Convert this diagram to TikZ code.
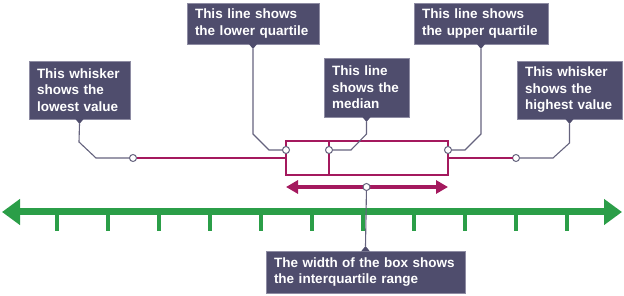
\documentclass[tikz,border=0pt]{standalone}
\usepackage{fontspec}
\setmainfont{Liberation Sans}
\usetikzlibrary{arrows.meta,calc}
\definecolor{boxc}{HTML}{4F4D6D}
\definecolor{boxedge}{HTML}{8E8CA3}
\definecolor{conn}{HTML}{65637E}
\definecolor{mag}{HTML}{A4195E}
\definecolor{grn}{HTML}{2B9E48}
\begin{document}
\begin{tikzpicture}[x=1pt,y=-1pt,
  lbl/.style={rectangle,fill=boxc,draw=boxedge,line width=0.6pt,text=white,
    font=\fontsize{13.5}{16.5}\selectfont\bfseries,align=left,
    inner xsep=8pt,inner ysep=0pt,outer sep=0pt,anchor=north west},
  ptr/.style={fill=boxc},
  connline/.style={draw=conn,line width=1.1pt},
  dot/.style={circle,fill=white,draw=conn,line width=1pt,minimum size=7pt,inner sep=0pt,outer sep=0pt},
  magline/.style={draw=mag,line width=2pt},
  axis/.style={draw=grn,line width=7pt},
  tick/.style={draw=grn,line width=4pt}]
\useasboundingbox (0,0) rectangle (624,296);

% green axis
\coordinate (axL) at (2,212);
\coordinate (axR) at (622,212);
\draw[axis,{Triangle[length=18pt,width=25pt]}-{Triangle[length=18pt,width=25pt]}] (axL) -- (axR);
\foreach \i in {0,...,10}{
  \coordinate (t\i) at ({57+51*\i},212);
  \draw[tick] (t\i) -- ++(0,19);
}

% box plot
\coordinate (q1t) at (286,141);
\coordinate (q3b) at (448,175);
\coordinate (medt) at (329,141);
\coordinate (medb) at (329,175);
\node[dot] (cmin) at (133,158) {};
\node[dot] (cmax) at (516,158) {};
\coordinate (wl) at (286,158);
\coordinate (wr) at (448,158);
\draw[magline] (cmin) -- (wl);
\draw[magline] (wr) -- (cmax);
\draw[magline] (q1t) rectangle (q3b);
\draw[magline] (medt) -- (medb);
\node[dot] (cq1) at (286,150) {};
\node[dot] (cmed) at (329,150) {};
\node[dot] (cq3) at (448,150) {};

% IQR arrow
\coordinate (iqL) at (286,187);
\coordinate (iqR) at (448,187);
\draw[draw=mag,line width=3.5pt,{Triangle[length=12pt,width=13pt]}-{Triangle[length=12pt,width=13pt]}] (iqL) -- (iqR);

% labels
\node[lbl,text width=85pt,minimum height=58pt] (low) at (29,61) {This whisker\\shows the\\lowest value};
\node[lbl,text width=116pt,minimum height=41pt] (lq) at (187,3) {This line shows\\the lower quartile};
\node[lbl,text width=69pt,minimum height=59pt] (med) at (324,58) {This line\\shows the\\median};
\node[lbl,text width=118pt,minimum height=41pt] (uq) at (414,3) {This line shows\\the upper quartile};
\node[lbl,text width=89pt,minimum height=58pt] (high) at (517,61) {This whisker\\shows the\\highest value};
\node[lbl,text width=183pt,minimum height=42pt] (iqr) at (266,251) {The width of the box shows\\the interquartile range};

% pointers
\foreach \n in {low,lq,med,uq,high}{
  \fill[ptr] ($(\n.south)+(-4.5,-0.5)$) -- ($(\n.south)+(4.5,-0.5)$) -- ($(\n.south)+(0,5)$) -- cycle;
  \coordinate (\n tip) at ($(\n.south)+(0,5)$);
}
\fill[ptr] ($(iqr.north)+(-4.5,0.5)$) -- ($(iqr.north)+(4.5,0.5)$) -- ($(iqr.north)+(0,-5)$) -- cycle;
\coordinate (iqrtip) at ($(iqr.north)+(0,-5)$);

% connectors
\draw[connline] (lowtip) -- (79,142) -- (96,158) -- (cmin);
\draw[connline] (lqtip) -- (253,134) -- (269,150) -- (cq1);
\draw[connline] (medtip) -- (366.5,134) -- (351,150) -- (cmed);
\draw[connline] (uqtip) -- (481,134) -- (465,150) -- (cq3);
\draw[connline] (hightip) -- (569.5,143) -- (553,158) -- (cmax);
\coordinate (ciqrc) at (366.5,187);
\draw[connline] (ciqrc) -- (iqrtip);
\node[dot] (ciqr) at (ciqrc) {};
\end{tikzpicture}
\end{document}
